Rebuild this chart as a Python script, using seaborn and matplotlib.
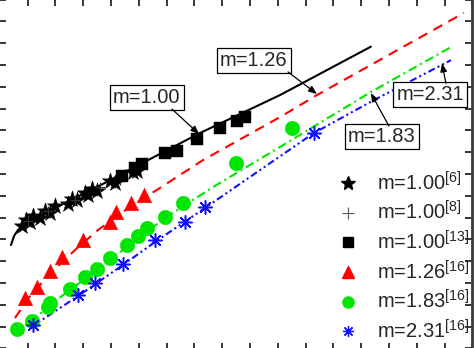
import matplotlib
matplotlib.use("Agg")
import matplotlib.pyplot as plt
import seaborn as sns
from matplotlib.lines import Line2D

# ---------------- data (in tick units) ----------------
line100_x = [-0.60, -0.49, -0.35, -0.10, 0.98, 2.78, 4.47, 6.20, 9.08, 12.35]
line100_y = [4.74, 5.16, 5.43, 5.71, 6.44, 7.59, 8.73, 9.88, 11.62, 13.84]

star_x = [-0.21, -0.06, 0.08, 0.19, 0.44, 0.62, 0.80, 0.98, 1.45, 1.59,
          1.77, 2.06, 2.17, 2.31, 2.49, 2.96, 3.14, 3.79, 3.93]
star_y = [5.63, 5.88, 5.81, 6.06, 6.00, 6.29, 6.22, 6.52, 6.64, 6.84,
          6.82, 7.12, 7.05, 7.30, 7.23, 7.67, 7.60, 8.10, 8.12]

plus_x = [0.01, 0.73, 1.70, 2.60, 3.32]
plus_y = [5.84, 6.30, 6.81, 7.40, 7.72]

sq_x = [3.39, 3.86, 4.11, 4.94, 5.37, 6.09, 6.92, 7.53, 7.82]
sq_y = [7.91, 8.28, 8.46, 8.96, 9.06, 9.61, 10.11, 10.43, 10.61]

line126_x = [-0.46, 0.08, 0.80, 1.70, 2.53, 3.68, 4.76, 6.31, 9.08, 10.41, 15.70]
line126_y = [1.39, 2.40, 3.41, 4.51, 5.43, 6.49, 7.36, 8.64, 10.61, 11.62, 15.39]
tri_x = [-0.10, 0.33, 0.80, 1.23, 1.99, 2.96, 3.18, 3.72, 4.19]
tri_y = [2.31, 2.82, 3.55, 4.19, 4.97, 5.80, 6.26, 6.67, 7.04]

line183_x = [-0.46, 0.15, 0.80, 1.52, 2.49, 3.57, 4.94, 6.67, 9.08, 12.35, 15.23]
line183_y = [0.71, 1.26, 1.99, 2.68, 3.60, 4.65, 5.98, 7.40, 9.24, 11.76, 13.82]
circ_x = [-0.39, 0.15, 0.73, 0.80, 1.52, 2.06, 2.49, 2.96, 3.57, 3.97, 4.29,
          4.94, 5.59, 7.50, 9.51]
circ_y = [0.89, 1.26, 1.90, 2.08, 2.72, 3.28, 3.64, 4.15, 4.74, 5.16, 5.52,
          6.03, 6.67, 8.50, 10.11]

line231_x = [0.08, 1.81, 3.43, 4.58, 6.38, 8.36, 10.30, 12.46, 15.23]
line231_y = [0.94, 2.40, 3.83, 4.88, 6.44, 8.18, 9.88, 11.39, 13.22]
ast_x = [0.19, 1.81, 2.42, 3.43, 4.58, 5.66, 6.38, 10.30]
ast_y = [1.08, 2.45, 3.00, 3.87, 4.97, 5.80, 6.49, 9.88]

legend_labels = [r"m=1.00$^{\mathrm{[6]}}$", r"m=1.00$^{\mathrm{[8]}}$",
                 r"m=1.00$^{\mathrm{[13]}}$", r"m=1.26$^{\mathrm{[16]}}$",
                 r"m=1.83$^{\mathrm{[16]}}$", r"m=2.31$^{\mathrm{[16]}}$"]

# annotation text, text centre, arrow start, arrow tip
ann_text = ["m=1.00", "m=1.26", "m=2.31", "m=1.83"]
ann_pos = [(4.29, 11.53), (8.14, 13.22), (14.48, 11.66), (12.75, 9.70)]
ann_from = [(5.19, 10.98), (9.37, 12.68), (15.05, 12.16), (13.00, 10.20)]
ann_to = [(6.17, 9.83), (10.41, 11.67), (14.91, 13.08), (12.35, 11.71)]

# ---------------- style ----------------
sns.set_style("ticks")
plt.rcParams["font.family"] = ["Liberation Sans", "DejaVu Sans"]
plt.rcParams["mathtext.fontset"] = "custom"
plt.rcParams["mathtext.rm"] = "Liberation Sans"
plt.rcParams["mathtext.it"] = "Liberation Sans:italic"
plt.rcParams["mathtext.bf"] = "Liberation Sans:bold"

RED = "#ff0000"
GREEN = "#00e600"
BLUE = "#1010ff"
FS = 14.5

fig = plt.figure(figsize=(4.74, 3.48), dpi=100)
ax = fig.add_axes([-1.5 / 474, -1.5 / 348, 473.8 / 474, 351 / 348])

# lines
sns.lineplot(x=line100_x, y=line100_y, color="black", lw=1.5, sort=False,
             estimator=None, ax=ax, zorder=2)
sns.lineplot(x=line126_x, y=line126_y, color=RED, lw=1.5, sort=False,
             estimator=None, ax=ax, linestyle=(0, (4.8, 3.4)), zorder=2)
sns.lineplot(x=line183_x, y=line183_y, color=GREEN, lw=1.5, sort=False,
             estimator=None, ax=ax, linestyle=(0, (4.3, 1.9, 1.0, 1.9)), zorder=2)
sns.lineplot(x=line231_x, y=line231_y, color=BLUE, lw=1.5, sort=False,
             estimator=None, ax=ax,
             linestyle=(0, (3.4, 1.5, 1.0, 1.5, 1.0, 1.5)), zorder=2)

# markers
sns.scatterplot(x=star_x, y=star_y, marker="*", s=150, color="black",
                edgecolor="black", linewidth=0.4, ax=ax, zorder=3)
sns.scatterplot(x=plus_x, y=plus_y, marker="+", s=60, color="#333333",
                linewidth=0.8, ax=ax, zorder=3)
sns.scatterplot(x=sq_x, y=sq_y, marker="s", s=68, color="black",
                edgecolor="black", linewidth=0.3, ax=ax, zorder=3)
sns.scatterplot(x=tri_x, y=tri_y, marker="^", s=110, color=RED,
                edgecolor=RED, linewidth=0.3, ax=ax, zorder=3)
sns.scatterplot(x=circ_x, y=circ_y, marker="o", s=110, color=GREEN,
                edgecolor=GREEN, linewidth=0.3, ax=ax, zorder=3)
sns.scatterplot(x=ast_x, y=ast_y, marker=(8, 2, 0), s=95, color=BLUE,
                linewidth=1.1, ax=ax, zorder=3)

# annotations
for t, p, a, b in zip(ann_text, ann_pos, ann_from, ann_to):
    ax.text(p[0], p[1], t, fontsize=FS, ha="center", va="center", zorder=5,
            bbox=dict(boxstyle="square,pad=0.15", fc="white", ec="black", lw=0.9))
    ax.annotate("", xy=b, xytext=a, zorder=5,
                arrowprops=dict(arrowstyle="-|>,head_length=0.5,head_width=0.2",
                                color="black", lw=0.9, shrinkA=0, shrinkB=0,
                                mutation_scale=10))

# legend
handles = [
    Line2D([], [], marker="*", color="black", ls="none", markersize=10),
    Line2D([], [], marker="+", color="#555555", ls="none", markersize=8, mew=0.8),
    Line2D([], [], marker="s", color="black", ls="none", markersize=6.5),
    Line2D([], [], marker="^", color=RED, ls="none", markersize=8),
    Line2D([], [], marker="o", color=GREEN, ls="none", markersize=8),
    Line2D([], [], marker=(8, 2, 0), color=BLUE, ls="none", markersize=8, mew=0.9),
]
ax.legend(handles, legend_labels, loc="upper left",
          bbox_to_anchor=(0.7166, 0.5085), frameon=False, fontsize=FS,
          handlelength=1.0, handletextpad=0.95, labelspacing=0.32,
          borderpad=0, borderaxespad=0)

# axes
ax.set_xlim(-1.05, 16)
ax.set_ylim(-0.05, 16.05)
ax.set_xticks(range(0, 17))
ax.set_yticks(range(0, 17))
ax.tick_params(direction="in", length=5, width=1.1, top=True, right=True,
               labelbottom=False, labelleft=False, color="black")
for s in ["left", "bottom", "top"]:
    ax.spines[s].set_visible(False)
ax.spines["right"].set_color("#3a3a3a")
ax.spines["right"].set_linewidth(2)
ax.set_xlabel("")
ax.set_ylabel("")

fig.savefig("out.png", dpi=100)
